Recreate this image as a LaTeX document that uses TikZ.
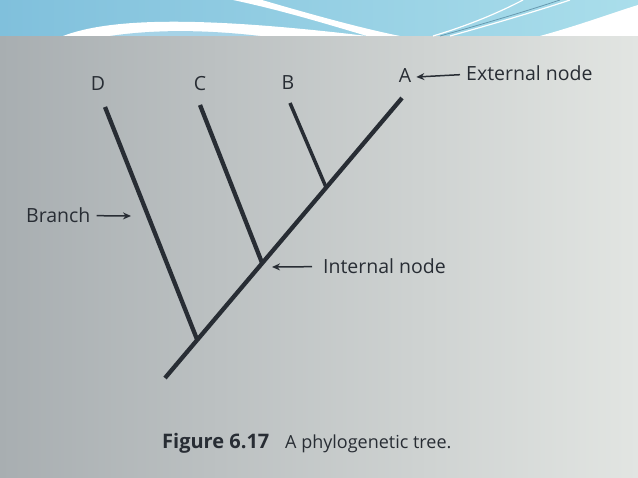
\documentclass[tikz,border=0pt]{standalone}
\usepackage{fontspec}
\setmainfont{Open Sans}
\usetikzlibrary{arrows.meta,calc}
\definecolor{ink}{RGB}{40,45,52}
\definecolor{pageL}{RGB}{168,174,177}
\definecolor{pageR}{RGB}{226,229,226}
\definecolor{bandL}{RGB}{128,192,220}
\definecolor{bandR}{RGB}{170,222,235}
\tikzset{
  edge/.style={draw=ink, line width=4.3pt, line cap=butt},
  pointer/.style={draw=ink, line width=1.5pt, -{Stealth[length=8pt,width=7pt]}},
  lbl/.style={text=ink, font=\fontsize{19.5}{22}\selectfont, inner sep=0pt, anchor=base west},
  tip/.style={text=ink, font=\fontsize{19.5}{22}\selectfont, inner sep=0pt, anchor=base}
}
\begin{document}
\begin{tikzpicture}[x=1pt,y=-1pt]
\useasboundingbox (0,0) rectangle (638,478);
% page
\shade[left color=pageL, right color=pageR] (0,36) rectangle (638,478);
% slide band
\shade[left color=bandL, right color=bandR] (0,0) rectangle (638,36);
\fill[white] (63,36) .. controls (110,18) and (200,16) .. (367,36) -- cycle;
\fill[bandL!70!white] (110,36) .. controls (150,30) and (200,29) .. (260,36) -- cycle;
\fill[white] (233,0) -- (262,0) .. controls (310,14) and (360,28) .. (400,36) -- (367,36) .. controls (320,22) and (280,10) .. cycle;
\fill[white] (540,36) .. controls (580,25) and (615,12) .. (638,5) -- (638,36) -- cycle;
\draw[white, line width=1.2pt] (433,36) .. controls (470,25) and (500,12) .. (523,0);
\draw[white, line width=1.2pt] (450,36) .. controls (500,22) and (540,10) .. (570,0);
\draw[bandL!80!black, line width=0.8pt] (440,36) .. controls (490,22) and (530,10) .. (560,0);
% tree
\coordinate (root) at (165,378);
\coordinate (tA) at (402,98);
\coordinate (tB) at (290,103);
\coordinate (tC) at (200,105);
\coordinate (tD) at (105,107);
\coordinate (jD) at ($(root)!0.136!(tA)$);
\coordinate (jC) at ($(root)!0.41!(tA)$);
\coordinate (jB) at ($(root)!0.68!(tA)$);
\draw[edge] (root) -- (tA);
\draw[edge] (tD) -- (jD);
\draw[edge] (tC) -- (jC);
\draw[edge, line width=3.5pt] (tB) -- (jB);
% tip labels
\node[tip] (D) at (98,91) {D};
\node[tip] (C) at (200,91) {C};
\node[tip] (B) at (288,90) {B};
\node[tip] (A) at (405,83) {A};
% annotations
\node[lbl] (ext) at (466,81) {External node};
\draw[pointer] ([xshift=-6pt,yshift=-1pt]ext.west) -- ([xshift=5pt,yshift=-1pt]A.east);
\node[lbl] (br) at (26,223) {Branch};
\coordinate (brT) at (131,216);
\draw[pointer] ([xshift=6pt]br.east) -- (brT);
\node[lbl] (int) at (323,274) {Internal node};
\coordinate (intT) at (272,267);
\draw[pointer] ([xshift=-11pt]int.west) -- (intT);
% caption
\node[lbl, font=\fontsize{20}{22}\selectfont\bfseries] (fig) at (162,449) {Figure 6.17};
\node[lbl, font=\fontsize{18}{22}\selectfont] (cap) at (285,449) {A phylogenetic tree.};
\end{tikzpicture}
\end{document}
